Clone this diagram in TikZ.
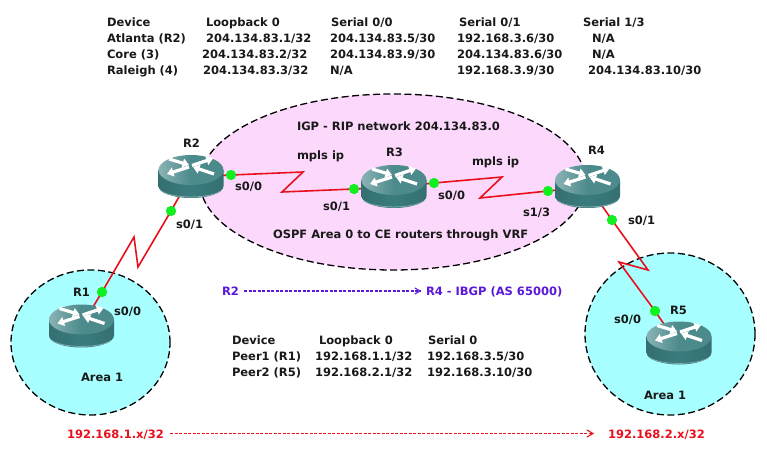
\documentclass[tikz,border=0pt]{standalone}
\usepackage{fontspec}
\setmainfont{DejaVu Sans}
\usetikzlibrary{arrows.meta,shapes.geometric}
\definecolor{serial}{HTML}{E8101C}
\definecolor{dotg}{HTML}{10F020}
\definecolor{igpfill}{HTML}{FCD9FC}
\definecolor{areafill}{HTML}{A8FFFF}
\definecolor{ibgp}{HTML}{5A18D8}
\definecolor{rtop}{HTML}{4C8A8C}
\definecolor{rbody}{HTML}{3A7C7E}
\tikzset{
  x=1pt,y=-1pt,
  txt/.style={anchor=base west,inner sep=0pt,outer sep=0pt,font=\fontsize{11.5}{13}\selectfont\bfseries,text=black!90},
  rtrbox/.style={draw=none,fill=none,minimum width=65pt,minimum height=42pt,inner sep=0pt},
  dot/.style={circle,fill=dotg,draw=none,minimum size=10pt,inner sep=0pt},
  link/.style={draw=serial,line width=1.6pt,line join=miter},
  region/.style={draw=black,line width=1.3pt,dash pattern=on 7pt off 3.5pt},
  igp/.style={region,ellipse,fill=igpfill,minimum width=386pt,minimum height=176pt,inner sep=0pt},
  area/.style={region,ellipse,fill=areafill,inner sep=0pt},
  farrow/.style={dash pattern=on 3pt off 1.5pt,line width=1.1pt},
  fhead/.style={line width=1.1pt,line cap=round},
  rarrowline/.style={white,line width=3.2pt,-{Triangle[length=6.5pt,width=9pt]}},
  router/.pic={
    \path[left color=rbody!90!black,right color=rbody!90!black,middle color=rbody]
      (-32.5,-7) -- (-32.5,9) arc[start angle=180,end angle=0,x radius=32.5,y radius=12] -- (32.5,-7) -- cycle;
    \draw[rbody!65!white,line width=.8pt] (-29.6,14) arc[start angle=160,end angle=20,x radius=31.5,y radius=9];
    \path[left color=white!35!rtop,right color=rtop,middle color=rtop]
      (0,-7) ellipse[x radius=32.5,y radius=15];
    \draw[rarrowline] (-22,-18) -- (-2,-12);
    \draw[rarrowline] (1,-11.5) -- (22,-18.5);
    \draw[rarrowline] (-2,-10) -- (-24,-3);
    \draw[rarrowline] (23,-3) -- (2,-10);
  }
}
\begin{document}
\begin{tikzpicture}
\useasboundingbox (0,0) rectangle (767,457);
\fill[white] (0,0) rectangle (767,457);
% regions
\node[igp] (igpzone) at (393,182) {};
\node[area,minimum width=159pt,minimum height=145pt] (areaL) at (90.5,342.5) {};
\node[area,minimum width=170pt,minimum height=162pt] (areaR) at (670,334) {};
% routers (place holders for the connectors)
\node[rtrbox] (R2) at (191,177) {};
\node[rtrbox] (R3) at (394,187) {};
\node[rtrbox] (R4) at (587.5,187) {};
\node[rtrbox] (R1) at (81.5,326.5) {};
\node[rtrbox] (R5) at (679,343.5) {};
% bends of serial links
\coordinate (b21a) at (138,267);
\coordinate (b21b) at (134,237);
\coordinate (b23a) at (303,172);
\coordinate (b23b) at (282,192);
\coordinate (b34a) at (502,177);
\coordinate (b34b) at (480,198);
\coordinate (b45a) at (648,270);
\coordinate (b45b) at (619,262);
% interface dots
\coordinate (p2a) at (180,195);
\coordinate (p1a) at (90,312);
\coordinate (p4a) at (600,203);
\coordinate (p5a) at (668,330);
\node[dot] (d2s) at (171,211) {};
\node[dot] (d1) at (102,292) {};
\node[dot] (d2e) at (231,175) {};
\node[dot] (d3w) at (354,189) {};
\node[dot] (d3e) at (434,183) {};
\node[dot] (d4w) at (548,191) {};
\node[dot] (d4s) at (612,220) {};
\node[dot] (d5) at (655,311) {};
% links
\draw[link] (p2a) -- (d2s.center) -- (b21a) -- (b21b) -- (d1.center) -- (p1a);
\draw[link] (R2.center) -- (d2e.center) -- (b23a) -- (b23b) -- (d3w.center) -- (R3.center);
\draw[link] (R3.center) -- (d3e.center) -- (b34a) -- (b34b) -- (d4w.center) -- (R4.center);
\draw[link] (p4a) -- (d4s.center) -- (b45a) -- (b45b) -- (d5.center) -- (p5a);
\foreach \n in {d2s,d1,d2e,d3w,d3e,d4w,d4s,d5} \node[dot] at (\n) {};
\pic at (R2) {router};
\pic at (R3) {router};
\pic at (R4) {router};
\pic at (R1) {router};
\pic at (R5) {router};
% table 1
\node[txt] at (107,27) {Device};
\node[txt] at (206,27) {Loopback 0};
\node[txt] at (331,27) {Serial 0/0};
\node[txt] at (459,27) {Serial 0/1};
\node[txt] at (583,27) {Serial 1/3};
\node[txt] at (107,43) {Atlanta (R2)};
\node[txt] at (206,43) {204.134.83.1/32};
\node[txt] at (330,43) {204.134.83.5/30};
\node[txt] at (457,43) {192.168.3.6/30};
\node[txt] at (592,43) {N/A};
\node[txt] at (107,59) {Core (3)};
\node[txt] at (202,59) {204.134.83.2/32};
\node[txt] at (330,59) {204.134.83.9/30};
\node[txt] at (457,59) {204.134.83.6/30};
\node[txt] at (592,59) {N/A};
\node[txt] at (107,75) {Raleigh (4)};
\node[txt] at (203,75) {204.134.83.3/32};
\node[txt] at (330,75) {N/A};
\node[txt] at (457,75) {192.168.3.9/30};
\node[txt] at (588,75) {204.134.83.10/30};
% labels
\node[txt] at (183,147) {R2};
\node[txt] at (386,157) {R3};
\node[txt] at (588,155) {R4};
\node[txt] at (73,296) {R1};
\node[txt] at (670,314) {R5};
\node[txt] at (297,131) {IGP - RIP network 204.134.83.0};
\node[txt] at (297,160) {mpls ip};
\node[txt] at (472,165) {mpls ip};
\node[txt] at (273,238) {OSPF Area 0 to CE routers through VRF};
\node[txt] at (235,190) {s0/0};
\node[txt] at (323,210) {s0/1};
\node[txt] at (438,199) {s0/0};
\node[txt] at (523,216) {s1/3};
\node[txt] at (176,228) {s0/1};
\node[txt] at (114,315) {s0/0};
\node[txt] at (628,224) {s0/1};
\node[txt] at (614,323) {s0/0};
\node[txt] at (81,381) {Area 1};
\node[txt] at (644,399) {Area 1};
% table 2
\node[txt] at (232,344) {Device};
\node[txt] at (319,344) {Loopback 0};
\node[txt] at (428,344) {Serial 0};
\node[txt] at (232,360) {Peer1 (R1)};
\node[txt] at (315,360) {192.168.1.1/32};
\node[txt] at (427,360) {192.168.3.5/30};
\node[txt] at (232,376) {Peer2 (R5)};
\node[txt] at (315,376) {192.168.2.1/32};
\node[txt] at (427,376) {192.168.3.10/30};
% flows
\node[txt,text=ibgp] (ibr2) at (222,295) {R2};
\node[txt,text=ibgp] (ibr4) at (426,295) {R4 - IBGP (AS 65000)};
\coordinate (ibs) at (244,291);
\coordinate (ibe) at (420,291);
\draw[farrow,draw=ibgp] (ibs) -- (ibe);
\draw[fhead,draw=ibgp] (415,288) -- (ibe) -- (415,294);
\node[txt,text=serial] (net1) at (67,438) {192.168.1.x/32};
\node[txt,text=serial] (net2) at (608,438) {192.168.2.x/32};
\coordinate (nets) at (170,433.5);
\coordinate (nete) at (593,433.5);
\draw[farrow,draw=serial] (nets) -- (nete);
\draw[fhead,draw=serial] (587,430) -- (nete) -- (587,437);
\end{tikzpicture}
\end{document}
